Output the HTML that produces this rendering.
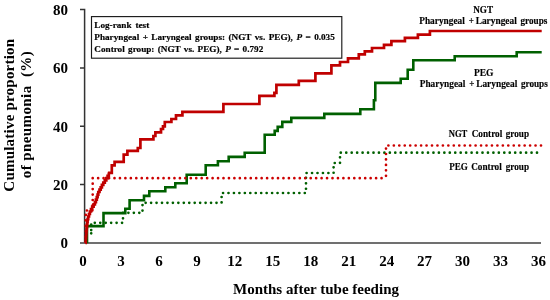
<!DOCTYPE html>
<html><head><meta charset="utf-8"><style>
html,body{margin:0;padding:0;background:#fff;width:550px;height:300px;overflow:hidden}
svg{display:block}
text{font-family:"Liberation Serif",serif;font-weight:bold;fill:#000}
.t{filter:grayscale(1)}
</style></head><body>
<svg width="550" height="300" viewBox="0 0 550 300">
<g class="t">
<!-- y axis title -->
<g font-size="15">
<text id="yt1" transform="translate(14.4,115.25) rotate(-90)" text-anchor="middle" textLength="152.8">Cumulative proportion</text>
<text id="yt2" transform="translate(30.6,114.75) rotate(-90)" text-anchor="middle" xml:space="preserve" textLength="126.9">of pneumonia  (%)</text>
</g>
<!-- y tick labels -->
<g font-size="15" text-anchor="end" id="ylab">
<text x="68" y="14.5">80</text>
<text x="68" y="73">60</text>
<text x="68" y="131.5">40</text>
<text x="68" y="189.5">20</text>
<text x="68" y="248">0</text>
</g>
<!-- x tick labels -->
<g font-size="15" text-anchor="middle" id="xlab">
<text x="83" y="266.4">0</text>
<text x="121" y="266.4">3</text>
<text x="158.9" y="266.4">6</text>
<text x="196.9" y="266.4">9</text>
<text x="234.8" y="266.4">12</text>
<text x="272.8" y="266.4">15</text>
<text x="310.8" y="266.4">18</text>
<text x="348.7" y="266.4">21</text>
<text x="386.7" y="266.4">24</text>
<text x="424.6" y="266.4">27</text>
<text x="462.6" y="266.4">30</text>
<text x="500.5" y="266.4">33</text>
<text x="538.5" y="266.4">36</text>
</g>
<text id="xt" x="316" y="293.6" font-size="15" text-anchor="middle">Months after tube feeding</text>
</g>
<!-- axes -->
<g stroke="#333" stroke-width="1.5" fill="none">
<path d="M80,9.5H84.6V243"/>
<path d="M80,68H84.6M80,126.3H84.6M80,184.6H84.6"/>
</g>
<path d="M80,242.9H541" stroke="#707070" stroke-width="2" fill="none"/>
<!-- legend box -->
<rect x="91.5" y="16.6" width="250.3" height="41.6" fill="#fff" stroke="#1a1a1a" stroke-width="1.15"/>
<g font-size="9.2" id="boxt" class="t" stroke="#000" stroke-width="0.18">
<text x="94.3" y="27.5" word-spacing="1.6">Log-rank test</text>
<text x="94.3" y="39.9" word-spacing="1.15">Pharyngeal + Laryngeal groups: (NGT vs. PEG), <tspan font-style="italic">P</tspan> = 0.035</text>
<text x="94.3" y="52" word-spacing="1.0">Control group: (NGT vs. PEG), <tspan font-style="italic">P</tspan> = 0.792</text>
</g>
<!-- legends -->
<g font-size="9.7" id="leg" class="t" stroke="#000" stroke-width="0.15">
<text y="12.5"><tspan x="473.2" textLength="19.9" lengthAdjust="spacingAndGlyphs">NGT</tspan></text>
<text y="23.5"><tspan x="419.2" textLength="45.6" lengthAdjust="spacingAndGlyphs">Pharyngeal</tspan><tspan x="468.7" textLength="5.1" lengthAdjust="spacingAndGlyphs">+</tspan><tspan x="475.7" textLength="41.1" lengthAdjust="spacingAndGlyphs">Laryngeal</tspan><tspan x="520.5" textLength="26.8" lengthAdjust="spacingAndGlyphs">groups</tspan></text>
<text y="75.7"><tspan x="473.9" textLength="19.6" lengthAdjust="spacingAndGlyphs">PEG</tspan></text>
<text y="86.5"><tspan x="419.7" textLength="45.6" lengthAdjust="spacingAndGlyphs">Pharyngeal</tspan><tspan x="469.2" textLength="5.1" lengthAdjust="spacingAndGlyphs">+</tspan><tspan x="476.2" textLength="41.1" lengthAdjust="spacingAndGlyphs">Laryngeal</tspan><tspan x="520.9" textLength="26.9" lengthAdjust="spacingAndGlyphs">groups</tspan></text>
<text y="136.5"><tspan x="448.7" textLength="18.6" lengthAdjust="spacingAndGlyphs">NGT</tspan><tspan x="471.7" textLength="30.6" lengthAdjust="spacingAndGlyphs">Control</tspan><tspan x="505.7" textLength="23.3" lengthAdjust="spacingAndGlyphs">group</tspan></text>
<text y="169.5"><tspan x="449.2" textLength="18.6" lengthAdjust="spacingAndGlyphs">PEG</tspan><tspan x="471.2" textLength="30.6" lengthAdjust="spacingAndGlyphs">Control</tspan><tspan x="505.7" textLength="23.3" lengthAdjust="spacingAndGlyphs">group</tspan></text>
</g>
<!-- curves -->
<g fill="none" stroke-linejoin="miter" stroke-linecap="butt">
<path id="gd" stroke="#006000" stroke-width="2.7" stroke-linecap="round" stroke-dasharray="0 5.45" d="M537,152.7H340V163H333.6V173H306V193H221.6V202.8H142.5V212.8H123V222.8H91.2V233.3M91.2,233.3H86.5V243"/>
<path id="gs" transform="translate(0.3,0.3)" stroke="#006000" stroke-width="2.6" d="M86.7,243V225.8H103.2V212.8H125V208.5H129.3V200H143.7V195.6H149V191H165V187H175V183H186.4V174.4H205.4V165H217.6V161H228.4V156.6H244.4V152.4H264.4V134.4H274.4V130.6H277.4V126.6H282V121.6H291V117.6H324V113.6H360V109H373.6V100H375V82.6H400.4V78.4H407.4V69.4H413V60H454.4V56H516.4V52H541.4"/>
<path id="rd" stroke="#cc0000" stroke-width="2.7" stroke-linecap="round" stroke-dasharray="0 5.45" d="M541,145.5H386V178.2M92.7,178.2H383M92.7,178.2V210.5H85.8V243"/>
<path id="rs" stroke="#c00000" stroke-width="2.7" d="M85.5,243.0H85.7V240.3H85.9V237.7H86.1V235.0H86.3V232.4H86.5V229.7H86.7V227.1H87.0V224.4H87.3V221.8H87.6V219.1H88.2V216.5H89.0V214.0H89.9V211.5H91.0V209.0H92.2V206.7H93.6V204.4H94.9V202.1H95.9V199.7H96.8V197.1H97.6V194.6H98.3V192.0H99.5V189.6H100.7V187.3H101.9V184.9H103.3V182.6H104.8V180.4H106.3V178.2H107.6V175.9H108.8V173.5L109,172.8H111.8V165.3H114.6V161.9H123.7V154.6H127.4V150.9H137.8V148.0H140.4V139.4H153.4V136.0H155.4V132.4H161.0V129.0H163.0V126.4H164.8V122.0H171.4V119.0H176.0V115.4H182.4V111.9H223.4V104.0H259.4V95.8H274.4V92.8H276.4V84.8H298.8V80.8H315.4V73.4H331.4V65.4H340.0V62.0H348.0V58.4H358.8V54.4H364.8V51.4H372.0V48.0H384.0V44.8H391.4V41.1H404.9V37.9H417.9V34.6H429.9V31.0H541.7"/>
</g>
</svg>
</body></html>
